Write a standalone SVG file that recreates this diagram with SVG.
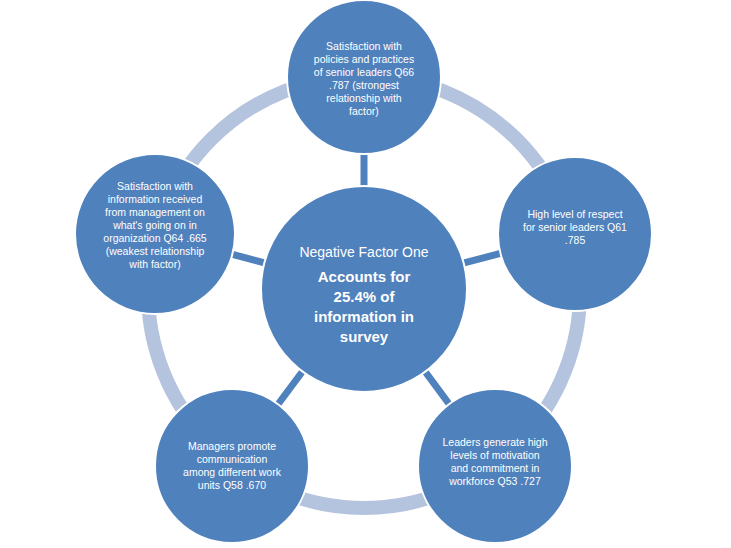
<svg xmlns="http://www.w3.org/2000/svg" width="731" height="548" viewBox="0 0 731 548">
<style>
.n{fill:#4F81BD;stroke:#fff;stroke-width:2}
.t{font-family:"Liberation Sans",Arial,sans-serif;font-size:10.5px;fill:#fff;text-anchor:middle}
.b{font-family:"Liberation Sans",Arial,sans-serif;font-size:15px;font-weight:bold;fill:#fff;text-anchor:middle}
</style>
<rect width="731" height="548" fill="#fff"/>
<g id="connectors">
<circle cx="364" cy="292" r="216" fill="none" stroke="#B4C3DE" stroke-width="14"/>
<g stroke="#4F81BD" stroke-width="7">
<line x1="364" y1="289" x2="364" y2="77"/>
<line x1="364" y1="289" x2="575" y2="234"/>
<line x1="364" y1="289" x2="495" y2="466"/>
<line x1="364" y1="289" x2="232" y2="466"/>
<line x1="364" y1="289" x2="155" y2="234"/>
</g>
</g>
<g id="center"><circle class="n" cx="364" cy="289" r="103"/>
<text class="t" x="364" y="257" style="font-size:14px">Negative Factor One</text>
<text class="b" x="364" y="282">Accounts for</text>
<text class="b" x="364" y="302">25.4% of</text>
<text class="b" x="364" y="322">information in</text>
<text class="b" x="364" y="342">survey</text></g>
<g id="top"><circle class="n" cx="364" cy="77" r="77"/>
<text class="t" x="364" y="50">Satisfaction with</text>
<text class="t" x="364" y="63">policies and practices</text>
<text class="t" x="364" y="76">of senior leaders Q66</text>
<text class="t" x="364" y="89">.787 (strongest</text>
<text class="t" x="364" y="102">relationship with</text>
<text class="t" x="364" y="115">factor)</text></g>
<g id="right"><circle class="n" cx="575" cy="234" r="77"/>
<text class="t" x="575" y="218">High level of respect</text>
<text class="t" x="575" y="231">for senior leaders Q61</text>
<text class="t" x="575" y="244">.785</text></g>
<g id="bottomright"><circle class="n" cx="495" cy="466" r="77"/>
<text class="t" x="495" y="446">Leaders generate high</text>
<text class="t" x="495" y="459">levels of motivation</text>
<text class="t" x="495" y="472">and commitment in</text>
<text class="t" x="495" y="485">workforce Q53 .727</text></g>
<g id="bottomleft"><circle class="n" cx="232" cy="466" r="77"/>
<text class="t" x="232" y="450">Managers promote</text>
<text class="t" x="232" y="463">communication</text>
<text class="t" x="232" y="476">among different work</text>
<text class="t" x="232" y="489">units Q58 .670</text></g>
<g id="left"><circle class="n" cx="155" cy="234" r="80"/>
<text class="t" x="155" y="190">Satisfaction with</text>
<text class="t" x="155" y="203">information received</text>
<text class="t" x="155" y="216">from management on</text>
<text class="t" x="155" y="229">what's going on in</text>
<text class="t" x="155" y="242">organization Q64 .665</text>
<text class="t" x="155" y="255">(weakest relationship</text>
<text class="t" x="155" y="268">with factor)</text></g>
</svg>
